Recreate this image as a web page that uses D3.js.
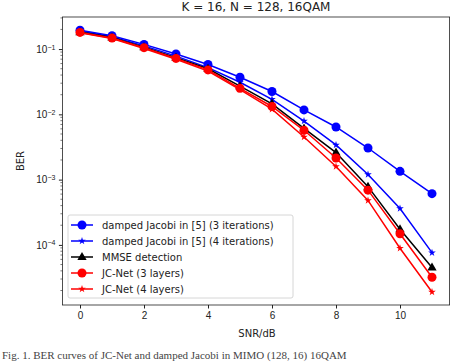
<!DOCTYPE html>
<html lang="en">
<head>
<meta charset="UTF-8">
<title>BER curves</title>
<script src="https://d3js.org/d3.v7.min.js"></script>
<style>
  body { margin: 0; background: #fff; }
  svg { display: block; font-family: "DejaVu Sans", sans-serif; }
  .axis text { font-size: 10px; fill: #222; }
  .axis path, .axis line { stroke: #222; }
</style>
</head>
<body>
<div id="chart"></div>
<script>
// SNR values (dB)
const snr = [0, 1, 2, 3, 4, 5, 6, 7, 8, 9, 10, 11];

// BER
const jacobi3 = [0.195, 0.16, 0.118, 0.084, 0.058, 0.037, 0.0224, 0.0117, 0.0064, 0.00305, 0.00134, 0.00061];
const jacobi4 = [0.19, 0.155, 0.112, 0.078, 0.052, 0.031, 0.017, 0.0079, 0.0034, 0.0012, 0.00036, 0.000076];
const mmse    = [0.182, 0.15, 0.107, 0.074, 0.05, 0.027, 0.0145, 0.0061, 0.0026, 0.00078, 0.000174, 0.000045];
const jcnet3  = [0.18, 0.148, 0.105, 0.072, 0.048, 0.025, 0.0132, 0.0057, 0.00214, 0.00069, 0.000148, 0.000032];
const jcnet4  = [0.178, 0.145, 0.102, 0.07, 0.046, 0.024, 0.012, 0.0045, 0.00159, 0.00048, 0.000089, 0.000019];

const seriesNames = [
  "damped Jacobi in [5] (3 iterations)",
  "damped Jacobi in [5] (4 iterations)",
  "MMSE detection",
  "JC-Net (3 layers)",
  "JC-Net (4 layers)"
];
const xTicks = [0, 2, 4, 6, 8, 10];
const yTicks = [1e-1, 1e-2, 1e-3, 1e-4];

const series = [
  { name: seriesNames[0], values: jacobi3, color: "#0000ff", marker: "circle", r: 4.5 },
  { name: seriesNames[1], values: jacobi4, color: "#0000ff", marker: "star", r: 4 },
  { name: seriesNames[2], values: mmse,    color: "#000000", marker: "triangle", r: 4.2 },
  { name: seriesNames[3], values: jcnet3,  color: "#ff0000", marker: "circle", r: 4.5 },
  { name: seriesNames[4], values: jcnet4,  color: "#ff0000", marker: "star", r: 4 }
];

const W = 474, H = 362;
const pLeft = 62.4, pRight = 449.6, pTop = 17, pBottom = 305;

const svg = d3.select("#chart").append("svg")
  .attr("width", W).attr("height", H);

const x = d3.scaleLinear().domain([-0.55, 11.55]).range([pLeft, pRight]);
const y = d3.scaleLog().domain([1.2e-5, 0.31]).range([pBottom, pTop]);

// frame
svg.append("rect")
  .attr("x", pLeft).attr("y", pTop)
  .attr("width", pRight - pLeft).attr("height", pBottom - pTop)
  .attr("fill", "none").attr("stroke", "#222").attr("stroke-width", 0.8);

// x axis
const xAxis = svg.append("g").attr("class", "axis")
  .attr("transform", `translate(0,${pBottom})`)
  .call(d3.axisBottom(x).tickValues(xTicks).tickSize(3.5).tickPadding(3.5).tickFormat(d3.format("d")));
xAxis.select(".domain").remove();

// y axis major
const yAxis = svg.append("g").attr("class", "axis")
  .attr("transform", `translate(${pLeft},0)`)
  .call(d3.axisLeft(y).tickValues(yTicks).tickSize(3.5).tickPadding(3.5).tickFormat(""));
yAxis.select(".domain").remove();
yAxis.selectAll(".tick text").remove();
yAxis.selectAll(".tick").append("text")
  .attr("x", -7).attr("dy", "0.32em").attr("text-anchor", "end")
  .attr("fill", "#222").style("font-size", "10px")
  .each(function(d) {
    const t = d3.select(this);
    t.append("tspan").text("10");
    t.append("tspan").attr("dy", "-0.45em").style("font-size", "7px")
      .text("\u2212" + Math.round(-Math.log10(d)));
  });

// y minor ticks
const minor = [];
for (let e = -5; e <= -1; e++) {
  for (let m = 2; m <= 9; m++) {
    const v = m * Math.pow(10, e);
    if (v >= y.domain()[0] && v <= y.domain()[1]) minor.push(v);
  }
}
svg.append("g").selectAll("line").data(minor).join("line")
  .attr("x1", pLeft - 2).attr("x2", pLeft)
  .attr("y1", d => y(d)).attr("y2", d => y(d))
  .attr("stroke", "#222").attr("stroke-width", 0.6);

// labels
svg.append("text").attr("x", 256).attr("y", 11).attr("text-anchor", "middle")
  .style("font-size", "12px").attr("fill", "#222").text("K = 16, N = 128, 16QAM");
svg.append("text").attr("x", 257).attr("y", 337).attr("text-anchor", "middle")
  .style("font-size", "10px").attr("fill", "#222").text("SNR/dB");
svg.append("text").attr("transform", "translate(24,161) rotate(-90)").attr("text-anchor", "middle")
  .style("font-size", "10px").attr("fill", "#222").text("BER");

// caption under the figure
svg.append("text").attr("x", 2).attr("y", 359)
  .style("font-family", "'Liberation Serif', serif").style("font-size", "11px").attr("fill", "#444")
  .text("Fig. 1.   BER curves of JC-Net and damped Jacobi in MIMO (128, 16) 16QAM");

// marker shapes
function markerPath(type, r) {
  if (type === "star") return d3.symbol(d3.symbolStar, r * r / 0.8908)();
  if (type === "triangle") {
    const h = r * 1.9;
    return `M0,${-h * 0.62}L${h * 0.58},${h * 0.38}L${-h * 0.58},${h * 0.38}Z`;
  }
  return d3.symbol(d3.symbolCircle, Math.PI * r * r)();
}

const line = d3.line().x((d, i) => x(snr[i])).y(d => y(d));
const plot = svg.append("g");
series.forEach(s => {
  plot.append("path").attr("d", line(s.values))
    .attr("fill", "none").attr("stroke", s.color).attr("stroke-width", 1.5);
  plot.selectAll(null).data(s.values).join("path")
    .attr("transform", (d, i) => `translate(${x(snr[i])},${y(d)})`)
    .attr("d", markerPath(s.marker, s.r))
    .attr("fill", s.color);
});

// legend
const lg = svg.append("g");
lg.append("rect").attr("x", 68).attr("y", 215).attr("width", 225).attr("height", 83)
  .attr("rx", 2).attr("fill", "#fff").attr("fill-opacity", 0.85)
  .attr("stroke", "#ccc").attr("stroke-width", 0.8);
series.forEach((s, i) => {
  const ly = 225 + i * 16;
  lg.append("line").attr("x1", 71).attr("x2", 93).attr("y1", ly).attr("y2", ly)
    .attr("stroke", s.color).attr("stroke-width", 1.5);
  lg.append("path").attr("transform", `translate(82,${ly})`)
    .attr("d", markerPath(s.marker, s.r)).attr("fill", s.color);
  lg.append("text").attr("x", 102).attr("y", ly).attr("dy", "0.35em")
    .style("font-size", "10px").attr("fill", "#222").text(s.name);
});
</script>
</body>
</html>
